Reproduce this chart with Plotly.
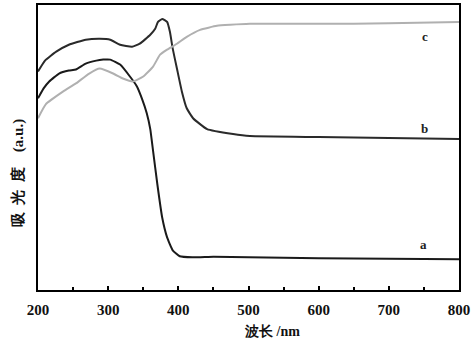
import plotly.graph_objects as go

# Curve a
a_x = [200, 208, 216, 230, 244, 254, 268, 283, 293, 303, 317, 331, 341, 348, 355, 360, 364, 370, 377, 384, 392, 402, 420, 450, 500, 600, 700, 800]
a_y = [1.93, 2.03, 2.10, 2.18, 2.21, 2.22, 2.28, 2.31, 2.32, 2.32, 2.27, 2.15, 2.05, 1.93, 1.78, 1.62, 1.40, 1.07, 0.73, 0.53, 0.40, 0.34, 0.33, 0.335, 0.33, 0.32, 0.315, 0.31]

# Curve b
b_x = [200, 210, 226, 244, 268, 288, 303, 317, 334, 345, 360, 367, 371, 377, 384, 388, 392, 398, 405, 412, 421, 441, 478, 502, 600, 700, 800]
b_y = [2.20, 2.31, 2.40, 2.47, 2.52, 2.53, 2.52, 2.47, 2.45, 2.48, 2.57, 2.63, 2.70, 2.73, 2.70, 2.60, 2.43, 2.23, 2.00, 1.83, 1.73, 1.62, 1.57, 1.55, 1.54, 1.53, 1.52]

# Curve c
c_x = [200, 211, 236, 254, 273, 288, 307, 321, 335, 350, 364, 374, 384, 398, 412, 431, 455, 474, 502, 600, 700, 800]
c_y = [1.73, 1.87, 2.00, 2.08, 2.18, 2.23, 2.18, 2.13, 2.10, 2.15, 2.25, 2.37, 2.42, 2.48, 2.55, 2.62, 2.66, 2.67, 2.68, 2.68, 2.685, 2.70]

labels = ["a", "b", "c"]
label_x = [750, 751, 751]
label_y = [0.46, 1.63, 2.55]

x_ticks = [200, 300, 400, 500, 600, 700, 800]

SERIF = "Liberation Serif"

fig = go.Figure()
fig.add_trace(go.Scatter(x=a_x, y=a_y, mode="lines", line=dict(color="#1a1a1a", width=2, shape="spline", smoothing=0.4)))
fig.add_trace(go.Scatter(x=b_x, y=b_y, mode="lines", line=dict(color="#2a2a2a", width=2, shape="spline", smoothing=0.4)))
fig.add_trace(go.Scatter(x=c_x, y=c_y, mode="lines", line=dict(color="#b0b0b0", width=2, shape="spline", smoothing=0.4)))

for t, lx, ly in zip(labels, label_x, label_y):
    fig.add_annotation(x=lx, y=ly, text=t, showarrow=False,
                       font=dict(family=SERIF, size=13, color="#222", weight="bold"))

fig.add_annotation(xref="paper", yref="paper", x=0.556, y=-0.146, text="波长 /nm",
                   showarrow=False, xanchor="center", yanchor="middle",
                   font=dict(family=SERIF, size=14, color="#111", weight="bold"))
fig.add_annotation(xref="paper", yref="paper", x=-0.0475, y=0.41, text="吸  光  度    (a.u.)",
                   showarrow=False, textangle=-90, xanchor="center", yanchor="middle",
                   font=dict(family=SERIF, size=15, color="#111", weight="bold"))

fig.update_layout(
    width=474, height=344,
    margin=dict(l=38, r=15, t=3, b=54),
    paper_bgcolor="white", plot_bgcolor="white",
    showlegend=False,
    xaxis=dict(range=[200, 800], tickvals=x_ticks, ticks="inside", ticklen=4, tickwidth=1.5,
               tickcolor="black", showline=True, linecolor="black", linewidth=2, mirror=True,
               showgrid=False, zeroline=False, ticklabelstandoff=5,
               tickfont=dict(family=SERIF, size=15, color="#111", weight="bold"),
               minor=dict(dtick=50, ticks="inside", ticklen=3, tickwidth=1.5, tickcolor="black", showgrid=False)),
    yaxis=dict(range=[0, 2.87], showticklabels=False, ticks="", showline=True, linecolor="black",
               linewidth=2, mirror=True, showgrid=False, zeroline=False),
)

fig.write_html("out.html")
